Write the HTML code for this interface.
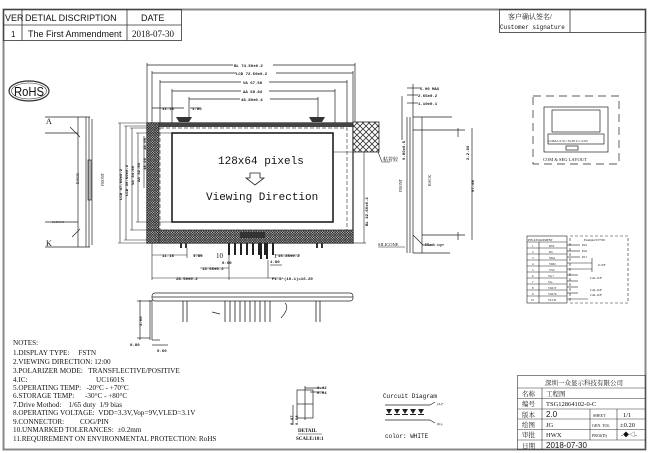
<!DOCTYPE html>
<html><head><meta charset="utf-8"><style>
html,body{margin:0;padding:0;background:#fff;}
svg{display:block;}
text{font-family:"Liberation Serif","Noto Serif CJK SC",serif;fill:#111;}
.s{font-family:"Liberation Sans","Noto Sans CJK SC",sans-serif;}
.m{font-family:"Liberation Mono","Noto Sans CJK SC",monospace;}
.b{font-weight:bold;font-size:4px;}
</style></head><body>
<svg width="650" height="453" viewBox="0 0 650 453" xmlns="http://www.w3.org/2000/svg">
<defs>
<pattern id="hx" width="2.5" height="2.5" patternUnits="userSpaceOnUse"><rect width="2.5" height="2.5" fill="#ccc"/><path d="M0 0L2.5 2.5M2.5 0L0 2.5" stroke="#222" stroke-width="0.7"/></pattern>
<pattern id="hx2" width="6" height="6" patternUnits="userSpaceOnUse"><rect width="6" height="6" fill="#fff"/><path d="M0 0L6 6M6 0L0 6" stroke="#333" stroke-width="0.8"/></pattern>
</defs>
<rect x="0" y="0" width="650" height="453" fill="#fff"/>
<rect x="3.5" y="9.5" width="642" height="440" fill="none" stroke="#888" stroke-width="2"/>
<g stroke="#333" stroke-width="0.8" fill="none">
<rect x="3.5" y="9.5" width="178" height="31"/>
<line x1="3.5" y1="25" x2="181.5" y2="25"/>
<line x1="22" y1="9.5" x2="22" y2="40.5"/>
<line x1="127" y1="9.5" x2="127" y2="40.5"/>
<rect x="499.5" y="9.5" width="146" height="23"/>
<line x1="570" y1="9.5" x2="570" y2="32.5"/>
</g>
<text x="5" y="21" class="s" font-size="9">VER</text>
<text x="25" y="21" class="s" font-size="9">DETIAL DISCRIPTION</text>
<text x="141" y="21" class="s" font-size="9">DATE</text>
<text x="11" y="37" class="s" font-size="8">1</text>
<text x="28" y="37" class="s" font-size="9">The First Ammendment</text>
<text x="132" y="37" font-size="9">2018-07-30</text>
<text x="508" y="19" font-size="7">客户确认签名/</text>
<text x="500" y="29" class="m" font-size="6">Customer signature</text>
<ellipse cx="29" cy="91" rx="20" ry="10" fill="none" stroke="#333" stroke-width="1.2"/>
<ellipse cx="29" cy="91" rx="17.5" ry="8" fill="none" stroke="#333" stroke-width="0.6"/>
<text x="14" y="96" class="s" font-size="13" textLength="30" lengthAdjust="spacingAndGlyphs">RoHS</text>
<g stroke="#222" stroke-width="0.7">
<line x1="147" y1="65" x2="355" y2="65"/><line x1="147" y1="63" x2="147" y2="123"/><line x1="355" y1="63" x2="355" y2="123"/>
<line x1="152" y1="73" x2="353" y2="73"/><line x1="152" y1="71" x2="152" y2="123"/><line x1="353" y1="71" x2="353" y2="123"/>
<line x1="160" y1="82" x2="347" y2="82"/><line x1="160" y1="80" x2="160" y2="130"/><line x1="347" y1="80" x2="347" y2="130"/>
<line x1="172" y1="91" x2="335" y2="91"/><line x1="172" y1="89" x2="172" y2="133"/><line x1="335" y1="89" x2="335" y2="133"/>
<line x1="189" y1="99" x2="318" y2="99"/><line x1="189" y1="97" x2="189" y2="117"/><line x1="318" y1="97" x2="318" y2="117"/>
<line x1="152" y1="108" x2="184" y2="108"/><line x1="190" y1="108" x2="200" y2="108"/>
</g>
<g fill="#fff"><rect x="233" y="62" width="40" height="6"/><rect x="236" y="70" width="40" height="6"/><rect x="241" y="79" width="28" height="6"/><rect x="241" y="88" width="28" height="6"/><rect x="240" y="96" width="30" height="6"/></g>
<text x="234" y="67" class="b m">BL 74.50±0.2</text>
<text x="236" y="75" class="b m">LCD 72.50±0.2</text>
<text x="243" y="84" class="b m">VA 67.50</text>
<text x="243" y="93" class="b m">AA 58.84</text>
<text x="241" y="101" class="b m">48.80±0.4</text>
<text x="162" y="110" class="b m">11.15</text>
<text x="192" y="110" class="b m">1.80</text>
<g fill="#333"><path d="M176 117h16l-3 5h-10z"/><path d="M309 117h16l-3 5h-10z"/></g>
<rect x="147" y="123" width="206" height="120" fill="#fff" stroke="#222" stroke-width="1.2"/>
<rect x="147" y="123" width="206" height="4" fill="#444"/>
<rect x="147" y="230" width="206" height="13" fill="url(#hx)" stroke="#222" stroke-width="0.6"/>
<rect x="147" y="123" width="12" height="120" fill="url(#hx)" stroke="#222" stroke-width="0.6"/>
<rect x="160" y="128" width="187" height="102" fill="none" stroke="#444" stroke-width="0.7" stroke-dasharray="4,2"/>
<rect x="172" y="133" width="161" height="89" fill="none" stroke="#111" stroke-width="1.5"/>
<rect x="353" y="122" width="26" height="30" fill="url(#hx2)" stroke="#222" stroke-width="0.8"/>
<line x1="333" y1="152" x2="353" y2="152" stroke="#222" stroke-width="0.6"/>
<path d="M378 152l4 10h8" fill="none" stroke="#222" stroke-width="0.6"/>
<text x="383" y="161" font-size="5">粘着胶</text>
<text x="218" y="164" class="m" font-size="11">128x64 pixels</text>
<path d="M250 173h10v5h4l-9 7l-9-7h4z" fill="#fff" stroke="#222" stroke-width="0.8"/>
<text x="206" y="200" class="m" font-size="11">Viewing Direction</text>
<rect x="240" y="232" width="25" height="6" fill="#333"/>
<g fill="#333"><rect x="180" y="243" width="2" height="5"/><rect x="185" y="243" width="2" height="5"/><rect x="316" y="243" width="2" height="5"/><rect x="321" y="243" width="2" height="5"/></g>
<g fill="#222"><rect x="228" y="243" width="2" height="12"/><rect x="234" y="243" width="2" height="12"/><rect x="240" y="243" width="2" height="12"/><rect x="246" y="243" width="2" height="12"/><rect x="252" y="243" width="2" height="12"/><rect x="258" y="243" width="2" height="12"/><rect x="264" y="243" width="2" height="12"/><rect x="260" y="243" width="2" height="16"/><rect x="266" y="243" width="2" height="16"/><rect x="272" y="243" width="2" height="12"/></g>
<text x="216" y="258" font-size="7">10</text>
<text x="274" y="258" font-size="6">1</text>
<g stroke="#222" stroke-width="0.6">
<line x1="152" y1="243" x2="152" y2="280"/><line x1="187" y1="248" x2="187" y2="258"/><line x1="229" y1="255" x2="229" y2="280"/>
<line x1="152" y1="255" x2="187" y2="255"/><line x1="193" y1="255" x2="202" y2="255"/>
<line x1="275" y1="255" x2="300" y2="255"/>
<line x1="200" y1="268" x2="229" y2="268"/><line x1="270" y1="265" x2="282" y2="265"/>
<line x1="152" y1="278" x2="229" y2="278"/><line x1="229" y1="278" x2="280" y2="278"/>
<line x1="268" y1="260" x2="268" y2="278"/>
</g>
<text x="162" y="257" class="b m">11.15</text>
<text x="193" y="257" class="b m">1.80</text>
<text x="278" y="257" class="b m">16.85±0.2</text>
<text x="222" y="264" class="b m">0.60</text>
<text x="202" y="270" class="b m">13.55±0.2</text>
<text x="270" y="263" class="b m">1.80</text>
<text x="176" y="280" class="b m">28.50±0.2</text>
<text x="272" y="280" class="b m">P1.8*(10-1)=16.20</text>
<g stroke="#222" stroke-width="0.6">
<line x1="118" y1="123" x2="147" y2="123"/><line x1="118" y1="243" x2="147" y2="243"/><line x1="120" y1="123" x2="120" y2="243"/>
<line x1="124" y1="126" x2="147" y2="126"/><line x1="124" y1="240" x2="147" y2="240"/><line x1="126" y1="126" x2="126" y2="240"/>
<line x1="130" y1="128" x2="160" y2="128"/><line x1="130" y1="230" x2="160" y2="230"/><line x1="132" y1="128" x2="132" y2="230"/>
<line x1="136" y1="133" x2="172" y2="133"/><line x1="136" y1="222" x2="172" y2="222"/><line x1="138" y1="133" x2="138" y2="222"/>
<line x1="144" y1="136" x2="144" y2="188"/>
</g>
<text transform="translate(122,200) rotate(-90)" class="b m">LCD 47.60±0.2</text>
<text transform="translate(128,196) rotate(-90)" class="b m">LCD 39.50±0.2</text>
<text transform="translate(134,185) rotate(-90)" class="b m">VA 34.60</text>
<text transform="translate(140,182) rotate(-90)" class="b m">AA 32.60</text>
<text transform="translate(146,170) rotate(-90)" class="b m">18.00</text>
<text transform="translate(146,150) rotate(-90)" class="b m">18.00</text>
<g stroke="#222" stroke-width="0.6"><line x1="353" y1="243" x2="366" y2="243"/><line x1="364" y1="152" x2="364" y2="243"/></g>
<text transform="translate(368,226) rotate(-90)" class="b m">BL 42.60±0.2</text>
<g stroke="#222" stroke-width="0.7" fill="none">
<line x1="45" y1="117" x2="90" y2="117"/><line x1="45" y1="133" x2="78" y2="133"/>
<line x1="45" y1="222" x2="78" y2="222"/><line x1="45" y1="247" x2="90" y2="247"/>
<line x1="78" y1="117" x2="78" y2="247"/><line x1="86" y1="117" x2="86" y2="247"/><line x1="89" y1="117" x2="89" y2="247"/><line x1="92" y1="119" x2="92" y2="245"/>
<rect x="88" y="160" width="3" height="40"/>
<line x1="70" y1="127" x2="80" y2="137"/>
<line x1="72" y1="237" x2="80" y2="229"/>
</g>
<text x="46" y="124" font-size="8">A</text>
<text x="46" y="246" font-size="8">K</text>
<text transform="translate(79,184) rotate(-90)" font-size="4">BACK</text>
<text transform="translate(104,186) rotate(-90)" font-size="4">FRONT</text>
<text x="52" y="223" font-size="3">12.50±0.3</text>
<g stroke="#222" stroke-width="0.7" fill="none">
<line x1="407" y1="117" x2="407" y2="253"/><line x1="410" y1="117" x2="410" y2="253"/><line x1="413" y1="117" x2="413" y2="253"/><line x1="422" y1="117" x2="422" y2="253"/>
<line x1="413" y1="117" x2="452" y2="117"/><line x1="413" y1="130" x2="465" y2="130"/><line x1="422" y1="235" x2="465" y2="235"/>
<line x1="458" y1="128" x2="458" y2="137"/><line x1="458" y1="232" x2="458" y2="240"/>
<line x1="472" y1="128" x2="472" y2="240"/>
<line x1="402" y1="96" x2="402" y2="140"/><line x1="407" y1="88" x2="420" y2="88"/><line x1="407" y1="95" x2="418" y2="95"/><line x1="407" y1="103" x2="418" y2="103"/>
<line x1="413" y1="84" x2="413" y2="117"/>
<line x1="413" y1="253" x2="450" y2="253"/>
<path d="M413 235l10 10h10"/>
</g>
<text x="420" y="90" class="b m">5.90 MAX</text>
<text x="418" y="97" class="b m">2.65±0.2</text>
<text x="418" y="105" class="b m">1.10±0.1</text>
<text transform="translate(405,160) rotate(-90)" class="b m">0.80±0.5</text>
<text transform="translate(402,192) rotate(-90)" font-size="4">FRONT</text>
<text transform="translate(431,186) rotate(-90)" font-size="4">BACK</text>
<text transform="translate(469,160) rotate(-90)" class="b m">2-2.60</text>
<text transform="translate(474,192) rotate(-90)" class="b m">97.60</text>
<text x="378" y="246" font-size="4.5">SILICONE</text>
<text x="425" y="246" font-size="4.5">Black tape</text>
<line x1="378" y1="247" x2="405" y2="247" stroke="#222" stroke-width="0.5"/>
<rect x="533" y="96" width="86" height="68" fill="none" stroke="#222" stroke-width="0.7" stroke-dasharray="8,5"/>
<g stroke="#222" stroke-width="0.7" fill="none"><rect x="544" y="107" width="64" height="45"/><rect x="552" y="110" width="48" height="22"/><rect x="548" y="134" width="56" height="10"/><rect x="566" y="146" width="12" height="4"/></g>
<text x="548" y="142" font-size="3.5">COM-C2  S1~S128  C1~C63</text>
<text x="543" y="161" font-size="4.5">COM &amp; SEG LAYOUT</text>
<g stroke="#222" stroke-width="0.6" fill="none">
<rect x="527" y="236" width="40" height="67"/><line x1="539" y1="242" x2="539" y2="303"/>
<line x1="527" y1="242" x2="567" y2="242"/><line x1="527" y1="248" x2="567" y2="248"/><line x1="527" y1="254" x2="567" y2="254"/><line x1="527" y1="260" x2="567" y2="260"/><line x1="527" y1="266" x2="567" y2="266"/><line x1="527" y1="272" x2="567" y2="272"/><line x1="527" y1="278" x2="567" y2="278"/><line x1="527" y1="284" x2="567" y2="284"/><line x1="527" y1="290" x2="567" y2="290"/><line x1="527" y1="296" x2="567" y2="296"/>
<rect x="570" y="236" width="58" height="67" stroke-dasharray="3,2"/>
<line x1="567" y1="245" x2="580" y2="245"/><line x1="567" y1="251" x2="580" y2="251"/><line x1="567" y1="257" x2="580" y2="257"/>
<line x1="567" y1="263" x2="592" y2="263"/><line x1="567" y1="269" x2="592" y2="269"/><line x1="592" y1="258" x2="592" y2="272"/>
<line x1="567" y1="275" x2="578" y2="275"/><line x1="567" y1="281" x2="578" y2="281"/><line x1="567" y1="287" x2="578" y2="287"/><line x1="567" y1="293" x2="578" y2="293"/><line x1="567" y1="299" x2="588" y2="299"/>
</g>
<g font-size="3"><text x="528" y="241">PIN ASSIGNMENT</text><text x="584" y="241">Example:ST7565</text><text x="582" y="246">PL0</text><text x="582" y="252">PL6</text><text x="582" y="258">PL7</text><text x="598" y="266">0.1UF</text><text x="590" y="279">CAL.1UF</text><text x="590" y="291">CAL.1UF</text><text x="590" y="296">CAL.1UF</text>
<text x="532" y="247">1</text><text x="532" y="253">2</text><text x="532" y="259">3</text><text x="532" y="265">4</text><text x="532" y="271">5</text><text x="532" y="277">6</text><text x="532" y="283">7</text><text x="532" y="289">8</text><text x="532" y="295">9</text><text x="531" y="301">10</text>
<text x="549" y="247">RST</text><text x="549" y="253">RS</text><text x="549" y="259">SDA</text><text x="549" y="265">VDD</text><text x="549" y="271">VSS</text><text x="548" y="277">VG+</text><text x="548" y="283">VG-</text><text x="548" y="289">VOUT</text><text x="548" y="295">VOUT-</text><text x="548" y="301">VLCD</text></g>
<g stroke="#222" stroke-width="0.7" fill="none">
<rect x="152" y="293" width="201" height="8" rx="3"/><line x1="152" y1="297" x2="353" y2="297"/>
<line x1="150" y1="300" x2="150" y2="340"/><line x1="152" y1="300" x2="152" y2="340"/>
<line x1="137" y1="301" x2="152" y2="301"/><line x1="137" y1="338" x2="150" y2="338"/><line x1="140" y1="300" x2="140" y2="340"/>
<line x1="152" y1="340" x2="160" y2="340"/><line x1="152" y1="345" x2="168" y2="345"/>
<path d="M285 303q5 5 -4 15"/><path d="M212 312l8 2"/>
</g>
<g stroke="#222" stroke-width="0.8">
<line x1="183" y1="301" x2="183" y2="322"/><line x1="187" y1="301" x2="187" y2="322"/><line x1="316" y1="301" x2="316" y2="322"/><line x1="320" y1="301" x2="320" y2="322"/>
<line x1="225" y1="301" x2="225" y2="322"/><line x1="230" y1="301" x2="230" y2="322"/><line x1="235" y1="301" x2="235" y2="322"/><line x1="240" y1="301" x2="240" y2="322"/><line x1="245" y1="301" x2="245" y2="322"/><line x1="250" y1="301" x2="250" y2="322"/><line x1="255" y1="301" x2="255" y2="322"/><line x1="260" y1="301" x2="260" y2="322"/><line x1="265" y1="301" x2="265" y2="322"/><line x1="270" y1="301" x2="270" y2="322"/>
</g>
<text transform="translate(142,326) rotate(-90)" class="b m">3.00</text>
<text x="130" y="346" class="b m">0.80</text>
<text x="157" y="352" class="b m">0.60</text>
<g font-size="7.2">
<text x="13" y="345">NOTES:</text>
<text x="13" y="355">1.DISPLAY TYPE:&#160;&#160;&#160;&#160;&#160;FSTN</text>
<text x="13" y="364">2.VIEWING DIRECTION:&#160;12:00</text>
<text x="13" y="373">3.POLARIZER MODE:&#160;&#160;&#160;TRANSFLECTIVE/POSITIVE</text>
<text x="13" y="382">4.IC:</text><text x="96" y="382">UC1601S</text>
<text x="13" y="390">5.OPERATING TEMP:&#160;&#160;&#160;-20°C - +70°C</text>
<text x="13" y="398">6.STORAGE TEMP:&#160;&#160;&#160;&#160;&#160;&#160;-30°C - +80°C</text>
<text x="13" y="407">7.Drive Mothod:&#160;&#160;&#160;&#160;1/65 duty&#160;&#160;1/9 bias</text>
<text x="13" y="415">8.OPERATING VOLTAGE:&#160;&#160;VDD=3.3V,Vop=9V,VLED=3.1V</text>
<text x="13" y="424">9.CONNECTOR:</text><text x="80" y="424">COG/PIN</text>
<text x="13" y="432">10.UNMARKED TOLERANCES:&#160;&#160;±0.2mm</text>
<text x="13" y="441">11.REQUIREMENT ON ENVIRONMENTAL PROTECTION: RoHS</text>
</g>
<g stroke="#222" stroke-width="0.7" fill="none">
<rect x="297" y="390" width="16" height="28"/><line x1="305" y1="386" x2="305" y2="420"/><line x1="297" y1="404" x2="313" y2="404"/>
<line x1="305" y1="388" x2="324" y2="388"/><line x1="310" y1="392" x2="324" y2="392"/>
<line x1="293" y1="405" x2="293" y2="425"/>
</g>
<text x="317" y="389" class="b m">0.42</text><text x="317" y="394" class="b m">0.04</text>
<text transform="translate(293,425) rotate(-90)" class="b m">0.47</text>
<text transform="translate(298,425) rotate(-90)" class="b m">0.04</text>
<text x="298" y="432" font-size="5" font-weight="bold">DETAIL</text>
<line x1="298" y1="434" x2="322" y2="434" stroke="#222" stroke-width="0.5"/>
<text x="296" y="440" font-size="5" font-weight="bold">SCALE:10:1</text>
<text x="383" y="398" class="m" font-size="6">Curcuit Diagram</text>
<g stroke="#222" stroke-width="0.7" fill="none"><line x1="385" y1="405" x2="430" y2="405"/><line x1="385" y1="420" x2="430" y2="420"/>
<line x1="430" y1="405" x2="435" y2="402"/><line x1="430" y1="420" x2="435" y2="423"/></g>
<g fill="#222"><path d="M386 409h6l-3 5z"/><path d="M394 409h6l-3 5z"/><path d="M402 409h6l-3 5z"/><path d="M410 409h6l-3 5z"/><path d="M418 409h6l-3 5z"/>
<rect x="386" y="414" width="6" height="1"/><rect x="394" y="414" width="6" height="1"/><rect x="402" y="414" width="6" height="1"/><rect x="410" y="414" width="6" height="1"/><rect x="418" y="414" width="6" height="1"/></g>
<text x="437" y="405" font-size="3.5">(A)+</text><text x="437" y="425" font-size="3.5">(K)-</text>
<text x="385" y="438" class="m" font-size="6">color: WHITE</text>
<g stroke="#333" stroke-width="0.6" fill="none">
<rect x="517.5" y="375.5" width="128" height="74"/>
<line x1="517.5" y1="388" x2="645.5" y2="388"/><line x1="517.5" y1="398.5" x2="645.5" y2="398.5"/><line x1="517.5" y1="409" x2="645.5" y2="409"/><line x1="517.5" y1="419" x2="645.5" y2="419"/><line x1="517.5" y1="429.5" x2="645.5" y2="429.5"/><line x1="517.5" y1="440" x2="645.5" y2="440"/>
<line x1="542" y1="388" x2="542" y2="450"/><line x1="590" y1="409" x2="590" y2="440"/><line x1="617" y1="409" x2="617" y2="440"/>
</g>
<g font-size="6.5">
<text x="545" y="385">深圳一众显示科技有限公司</text>
<text x="522" y="396">名称</text><text x="546" y="396">工程图</text>
<text x="522" y="406">编号</text><text x="546" y="406">TSG12864102-0-C</text>
<text x="522" y="417">版本</text><text x="546" y="417" class="s" font-size="8">2.0</text><text x="593" y="417" font-size="4">SHEET</text><text x="623" y="417">1/1</text>
<text x="522" y="427">绘图</text><text x="546" y="427">JG</text><text x="592" y="427" font-size="4">GEN. TOL</text><text x="620" y="427">±0.20</text>
<text x="522" y="437">审批</text><text x="546" y="437">HWX</text><text x="592" y="437" font-size="4">PROJ(D)</text><text x="621" y="437" font-size="6">-◆◁-</text>
<text x="522" y="448">日期</text><text x="546" y="448" class="s" font-size="8">2018-07-30</text>
</g>
</svg>
</body></html>
